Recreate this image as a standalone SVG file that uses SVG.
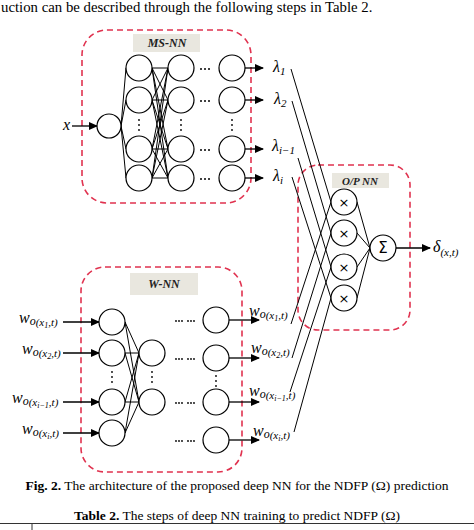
<svg xmlns="http://www.w3.org/2000/svg" width="474" height="530" viewBox="0 0 474 530">
<defs>
<marker id="ah" markerWidth="9" markerHeight="8" refX="8" refY="4" orient="auto" markerUnits="userSpaceOnUse"><path d="M0,0 L9,4 L0,8 Z" fill="#000"/></marker>
<style>
.box{fill:none;stroke:#e0324f;stroke-width:1.6;stroke-dasharray:6 4}
.lab{fill:#e9e7df}
.labt{font-family:"Liberation Serif",serif;font-weight:bold;font-style:italic;font-size:12px;fill:#222;text-anchor:middle}
.n{fill:#fff;stroke:#000;stroke-width:1.2}
.e{stroke:#000;stroke-width:1;fill:none}
.a{stroke:#000;stroke-width:1.3;fill:none;marker-end:url(#ah)}
.d{fill:#000}
.m{font-family:"Liberation Serif",serif;font-style:italic;font-size:16px;fill:#000}
.s{font-size:11px}
.o{font-size:12px}
.i{font-size:8px}
.op{font-family:"DejaVu Sans",sans-serif;font-size:13px;text-anchor:middle;fill:#000}
.cap{font-family:"Liberation Serif",serif;font-size:13.5px;fill:#000}
.top{font-family:"Liberation Serif",serif;font-size:14.8px;fill:#000}
</style>
</defs>

<text class="top" x="1" y="12">uction can be described through the following steps in Table 2.</text>

<!-- boxes -->
<g id="ms-nn-box"><rect class="box" x="82" y="30" width="169" height="173" rx="25"/><rect class="lab" x="133" y="34" width="67" height="18"/><text class="labt" x="167" y="47">MS-NN</text></g>
<g id="w-nn-box"><rect class="box" x="81" y="267" width="161" height="205" rx="24"/><rect class="lab" x="130" y="273" width="68" height="22"/><text class="labt" x="164" y="288">W-NN</text></g>
<g id="op-nn-box"><rect class="box" x="298" y="165" width="112" height="165" rx="20"/><rect class="lab" x="332" y="173" width="57" height="15"/><text class="labt" x="360" y="185" style="font-size:11px">O/P NN</text></g>

<g id="connectors">
<!-- MS-NN -->
<line class="a" x1="72" y1="126" x2="97" y2="126"/>
<path class="e" d="M121,126L126,68M121,126L126,100M121,126L126,149M121,126L126,178"/>
<path class="e" d="M152,68L168,68M152,68L168,100M152,68L168,149M152,68L168,178M152,100L168,68M152,100L168,100M152,100L168,149M152,100L168,178M152,149L168,68M152,149L168,100M152,149L168,149M152,149L168,178M152,178L168,68M152,178L168,100M152,178L168,149M152,178L168,178"/>
<line class="a" x1="245" y1="68" x2="263" y2="68"/>
<line class="a" x1="245" y1="100" x2="263" y2="100"/>
<line class="a" x1="245" y1="149" x2="263" y2="149"/>
<line class="a" x1="245" y1="178" x2="263" y2="178"/>
<!-- lambda to x -->
<path class="e" d="M291,69L331,202M292,101L331,233M298,158L331,267M292,177L331,298"/>
<!-- w to x -->
<path class="e" d="M291,324L331,202M292,358L331,233M290,392L331,267M294,432L331,298"/>
<!-- x to sigma -->
<path class="e" d="M357,202L370,248M357,233L370,248M357,267L370,248M357,298L370,248"/>
<line class="a" x1="396" y1="248" x2="430" y2="248"/>
<!-- W-NN -->
<line class="a" x1="63" y1="322" x2="99" y2="322"/>
<line class="a" x1="63" y1="353" x2="99" y2="353"/>
<line class="a" x1="63" y1="402" x2="99" y2="402"/>
<line class="a" x1="63" y1="433" x2="99" y2="433"/>
<path class="e" d="M125,322L139,353M125,322L139,402M125,353L139,353M125,353L139,402M125,402L139,353M125,402L139,402M125,433L139,353M125,433L139,402"/>
<line class="a" x1="229" y1="320" x2="259" y2="320"/>
<line class="a" x1="229" y1="358" x2="259" y2="358"/>
<line class="a" x1="229" y1="402" x2="259" y2="402"/>
<line class="a" x1="229" y1="440" x2="259" y2="440"/>
</g>

<!-- MS-NN nodes -->
<g id="ms-in"><circle class="n" cx="109" cy="126" r="12"/><text class="m" x="63" y="130">x</text></g>
<g id="ms-l1"><circle class="n" cx="139" cy="68" r="13"/><circle class="n" cx="139" cy="100" r="13"/><circle class="n" cx="139" cy="149" r="13"/><circle class="n" cx="139" cy="178" r="13"/></g>
<g id="ms-l2"><circle class="n" cx="181" cy="68" r="13"/><circle class="n" cx="181" cy="100" r="13"/><circle class="n" cx="181" cy="149" r="13"/><circle class="n" cx="181" cy="178" r="13"/></g>
<g id="ms-l3"><circle class="n" cx="232" cy="68" r="13"/><circle class="n" cx="232" cy="100" r="13"/><circle class="n" cx="232" cy="149" r="13"/><circle class="n" cx="232" cy="178" r="13"/></g>
<g id="ms-dots" class="d">
<circle cx="139" cy="120" r="0.9"/><circle cx="139" cy="125" r="0.9"/><circle cx="139" cy="130" r="0.9"/>
<circle cx="181" cy="120" r="0.9"/><circle cx="181" cy="125" r="0.9"/><circle cx="181" cy="130" r="0.9"/>
<circle cx="232" cy="120" r="0.9"/><circle cx="232" cy="125" r="0.9"/><circle cx="232" cy="130" r="0.9"/>
<circle cx="201" cy="69" r="1"/><circle cx="205" cy="69" r="1"/><circle cx="209" cy="69" r="1"/>
<circle cx="201" cy="101" r="1"/><circle cx="205" cy="101" r="1"/><circle cx="209" cy="101" r="1"/>
<circle cx="201" cy="150" r="1"/><circle cx="205" cy="150" r="1"/><circle cx="209" cy="150" r="1"/>
<circle cx="201" cy="179" r="1"/><circle cx="205" cy="179" r="1"/><circle cx="209" cy="179" r="1"/>
</g>
<g id="lambdas">
<text class="m" x="273" y="72">λ<tspan class="s" dy="3">1</tspan></text>
<text class="m" x="274" y="104">λ<tspan class="s" dy="3">2</tspan></text>
<text class="m" x="272" y="151">λ<tspan class="s" dy="3">i−1</tspan></text>
<text class="m" x="273" y="181">λ<tspan class="s" dy="3">i</tspan></text>
</g>

<!-- O/P nodes -->
<g id="op-x1"><circle class="n" cx="344" cy="202" r="13"/><text class="op" x="344" y="207">×</text></g>
<g id="op-x2"><circle class="n" cx="344" cy="233" r="13"/><text class="op" x="344" y="238">×</text></g>
<g id="op-x3"><circle class="n" cx="344" cy="267" r="13"/><text class="op" x="344" y="272">×</text></g>
<g id="op-x4"><circle class="n" cx="344" cy="298" r="13"/><text class="op" x="344" y="303">×</text></g>
<g id="op-sum"><circle class="n" cx="383" cy="248" r="13"/><text class="op" x="383" y="253" style="font-size:15px">Σ</text></g>
<g id="out"><text class="m" x="433" y="252">δ<tspan class="s" dy="4">(x,t)</tspan></text></g>

<!-- W-NN nodes -->
<g id="w-l1"><circle class="n" cx="112" cy="322" r="13"/><circle class="n" cx="112" cy="353" r="13"/><circle class="n" cx="112" cy="402" r="13"/><circle class="n" cx="112" cy="433" r="13"/></g>
<g id="w-l2"><circle class="n" cx="152" cy="353" r="13"/><circle class="n" cx="152" cy="402" r="13"/></g>
<g id="w-l3"><circle class="n" cx="216" cy="320" r="13"/><circle class="n" cx="216" cy="358" r="13"/><circle class="n" cx="216" cy="402" r="13"/><circle class="n" cx="216" cy="440" r="13"/></g>
<g id="w-dots" class="d">
<circle cx="112" cy="372" r="0.9"/><circle cx="112" cy="377" r="0.9"/><circle cx="112" cy="382" r="0.9"/>
<circle cx="152" cy="372" r="0.9"/><circle cx="152" cy="377" r="0.9"/><circle cx="152" cy="382" r="0.9"/>
<circle cx="216" cy="376" r="0.9"/><circle cx="216" cy="381" r="0.9"/><circle cx="216" cy="386" r="0.9"/>
<circle cx="176" cy="321" r="0.9"/><circle cx="179" cy="321" r="0.9"/><circle cx="182" cy="321" r="0.9"/><circle cx="188" cy="321" r="0.9"/><circle cx="191" cy="321" r="0.9"/><circle cx="194" cy="321" r="0.9"/>
<circle cx="176" cy="359" r="0.9"/><circle cx="179" cy="359" r="0.9"/><circle cx="182" cy="359" r="0.9"/><circle cx="188" cy="359" r="0.9"/><circle cx="191" cy="359" r="0.9"/><circle cx="194" cy="359" r="0.9"/>
<circle cx="176" cy="403" r="0.9"/><circle cx="179" cy="403" r="0.9"/><circle cx="182" cy="403" r="0.9"/><circle cx="188" cy="403" r="0.9"/><circle cx="191" cy="403" r="0.9"/><circle cx="194" cy="403" r="0.9"/>
<circle cx="176" cy="441" r="0.9"/><circle cx="179" cy="441" r="0.9"/><circle cx="182" cy="441" r="0.9"/><circle cx="188" cy="441" r="0.9"/><circle cx="191" cy="441" r="0.9"/><circle cx="194" cy="441" r="0.9"/>
</g>
<g id="w-in-labels">
<text class="m" x="19" y="323">w<tspan class="o" dy="2">o</tspan><tspan class="s" dy="1">(x</tspan><tspan class="i" dy="2">1</tspan><tspan class="s" dy="-2">,t)</tspan></text>
<text class="m" x="22" y="354">w<tspan class="o" dy="2">o</tspan><tspan class="s" dy="1">(x</tspan><tspan class="i" dy="2">2</tspan><tspan class="s" dy="-2">,t)</tspan></text>
<text class="m" x="12" y="403">w<tspan class="o" dy="2">o</tspan><tspan class="s" dy="1">(x</tspan><tspan class="i" dy="2">i−1</tspan><tspan class="s" dy="-2">,t)</tspan></text>
<text class="m" x="22" y="434">w<tspan class="o" dy="2">o</tspan><tspan class="s" dy="1">(x</tspan><tspan class="i" dy="2">i</tspan><tspan class="s" dy="-2">,t)</tspan></text>
</g>
<g id="w-out-labels">
<text class="m" x="249" y="316">w<tspan class="o" dy="2">o</tspan><tspan class="s" dy="1">(x</tspan><tspan class="i" dy="2">1</tspan><tspan class="s" dy="-2">,t)</tspan></text>
<text class="m" x="251" y="353">w<tspan class="o" dy="2">o</tspan><tspan class="s" dy="1">(x</tspan><tspan class="i" dy="2">2</tspan><tspan class="s" dy="-2">,t)</tspan></text>
<text class="m" x="249" y="396">w<tspan class="o" dy="2">o</tspan><tspan class="s" dy="1">(x</tspan><tspan class="i" dy="2">i−1</tspan><tspan class="s" dy="-2">,t)</tspan></text>
<text class="m" x="253" y="436">w<tspan class="o" dy="2">o</tspan><tspan class="s" dy="1">(x</tspan><tspan class="i" dy="2">i</tspan><tspan class="s" dy="-2">,t)</tspan></text>
</g>

<text class="cap" x="237" y="490" text-anchor="middle"><tspan font-weight="bold">Fig. 2.</tspan> The architecture of the proposed deep NN for the NDFP (Ω) prediction</text>
<text class="cap" x="237" y="520" text-anchor="middle"><tspan font-weight="bold">Table 2.</tspan> The steps of deep NN training to predict NDFP (Ω)</text>
<line x1="0" y1="523.5" x2="474" y2="523.5" stroke="#333" stroke-width="1.2"/>
<line x1="32" y1="524" x2="32" y2="530" stroke="#333" stroke-width="1"/>
</svg>
